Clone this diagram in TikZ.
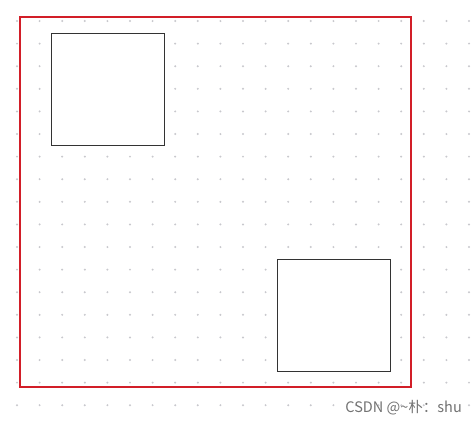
\documentclass[tikz,border=0pt]{standalone}
\usepackage{fontspec}
\newfontfamily\cjk{Noto Sans CJK SC}
\usepackage{xcolor}
\usepackage{tikz}
\usetikzlibrary{positioning}
\definecolor{framered}{RGB}{210,30,40}
\definecolor{dotgray}{RGB}{200,200,205}

\begin{document}
\begin{tikzpicture}[x=1pt, y=-1pt]
            % Styles
            \tikzstyle{square} = [rectangle, draw=black!80, line width=0.8pt, fill=white, minimum width=113pt, minimum height=112pt, inner sep=0pt]
            \tikzstyle{frame} = [rectangle, draw=framered, line width=1.6pt, minimum width=391pt, minimum height=370pt, inner sep=0pt]
            % Canvas
            \fill[white] (0,0) rectangle (474,424);
            \useasboundingbox (0,0) rectangle (474,424);
            % Dot grid
            \foreach \i in {0,...,20}
                \foreach \j in {0,...,17}
                    \fill[dotgray] ({17+22.6*\i},{21+22.6*\j}) circle (1.1pt);
            % Frame and squares
            \node[frame] (canvasframe) at (215.5,202) {};
            \node[square] (topsquare) at (107.5,89) {};
            \node[square] (bottomsquare) at (333.5,315) {};
            % Watermark
            \node[anchor=east, text=black!55, font=\cjk\fontsize{14.5}{16}\selectfont, inner sep=0pt] (mark) at (462,408) {CSDN @\textasciitilde 朴：shu};
        \end{tikzpicture}
\end{document}
